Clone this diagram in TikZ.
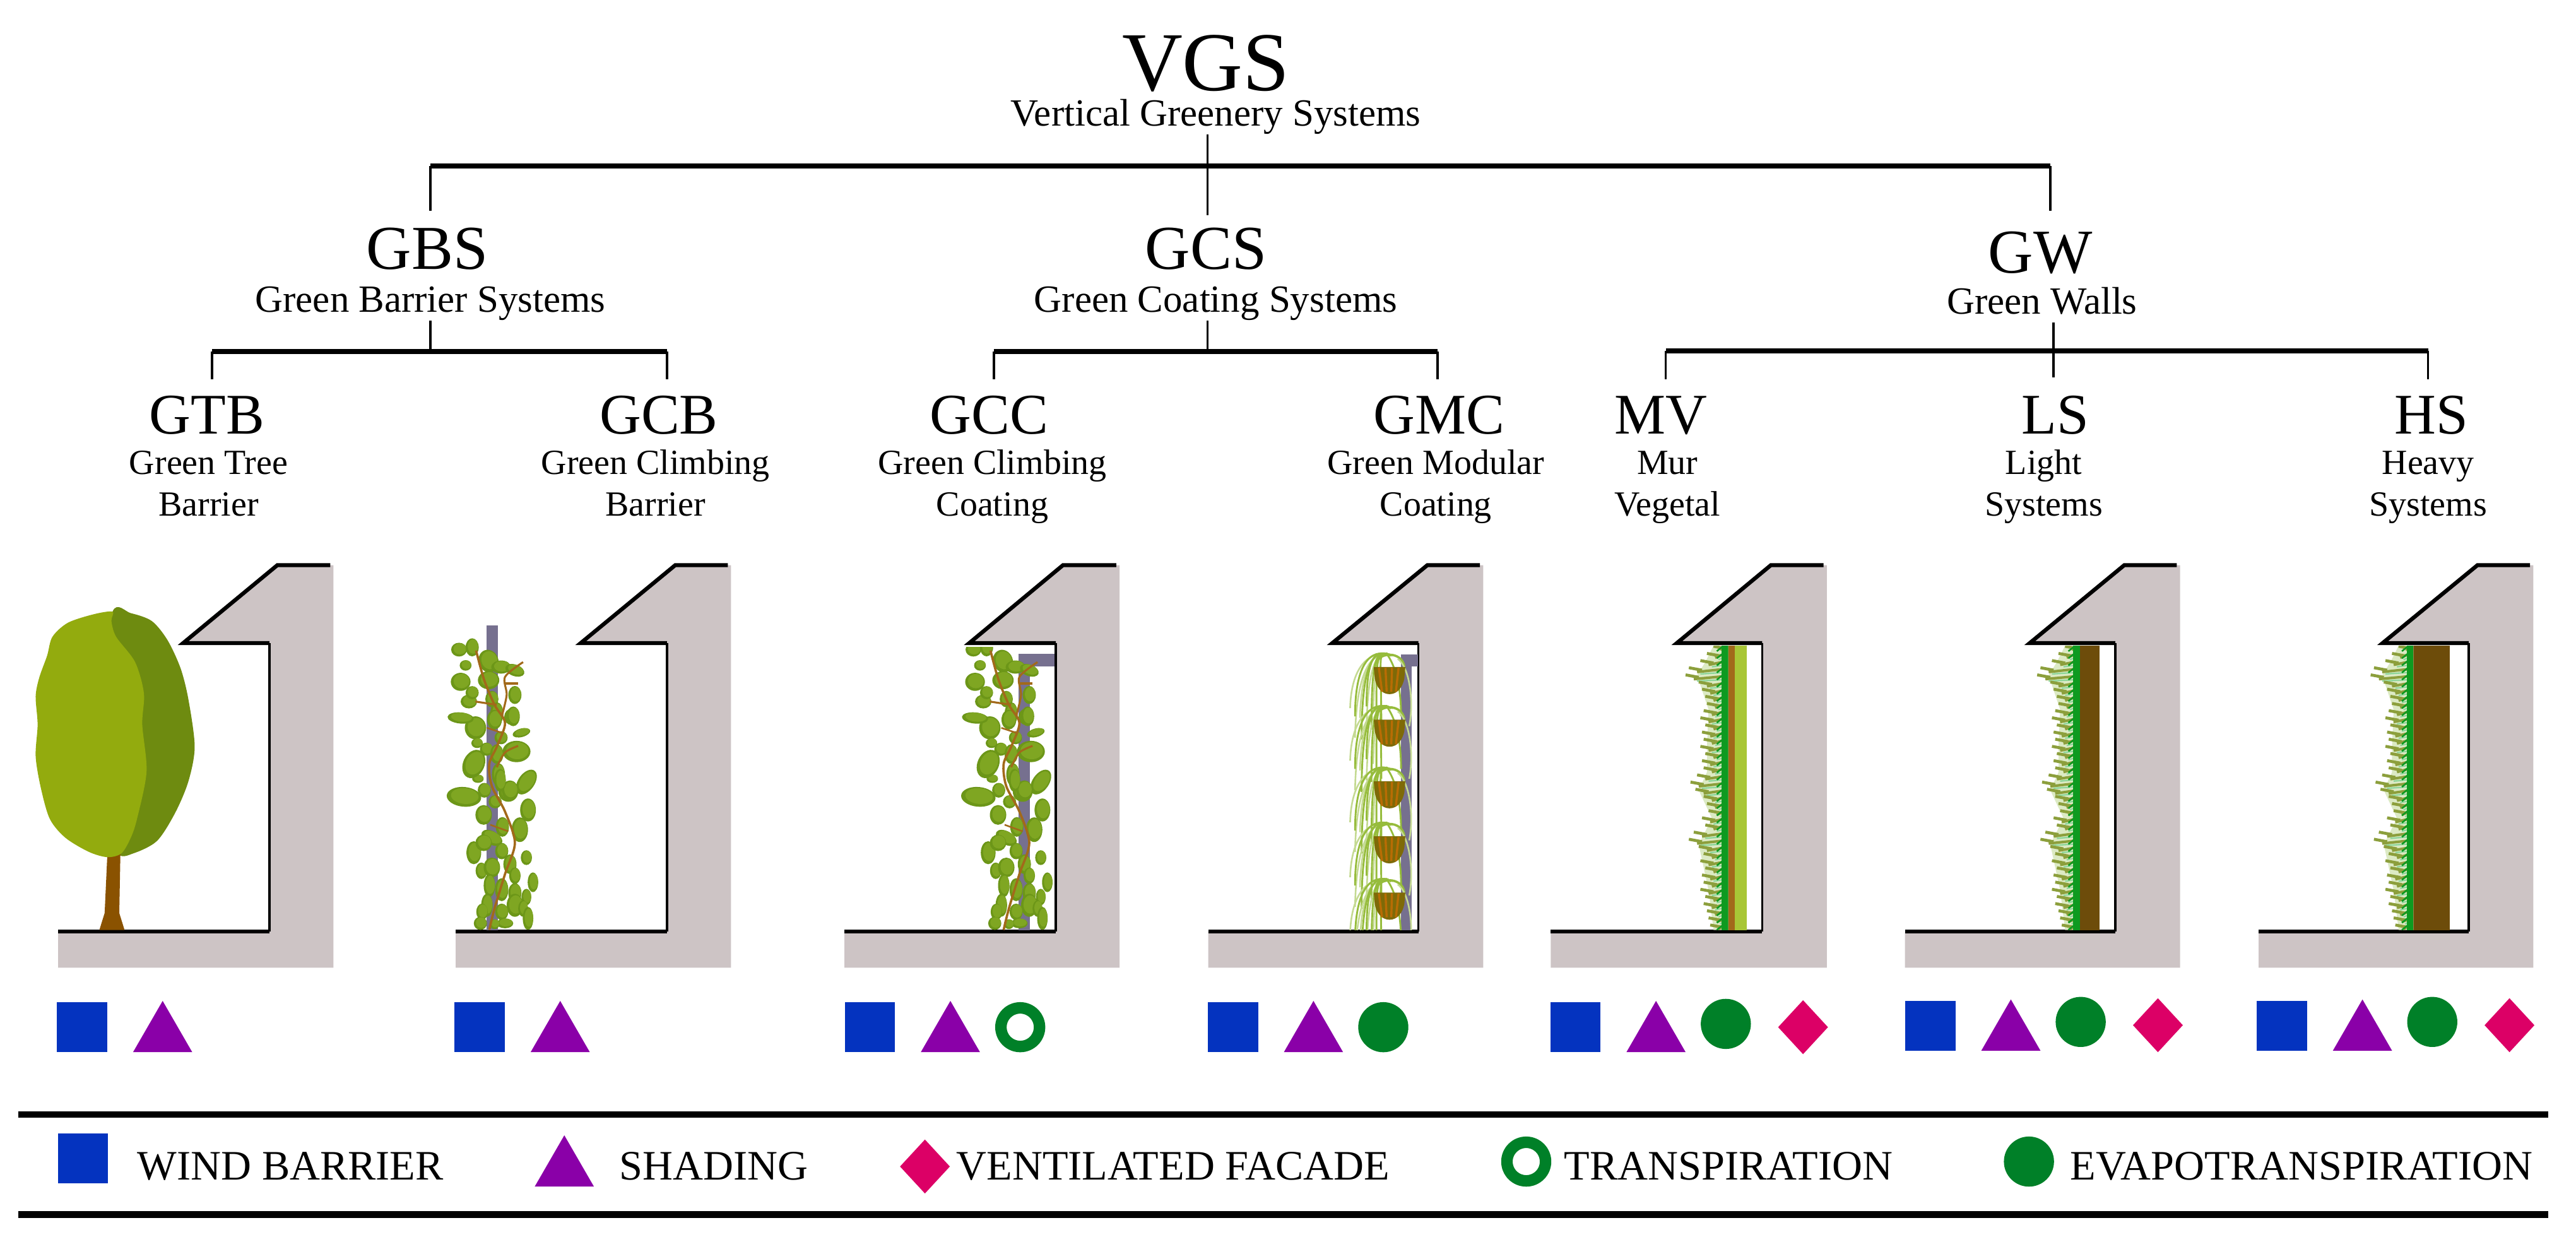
\documentclass[tikz,border=0pt]{standalone}
\usepackage{fontspec}
\setmainfont{Liberation Serif}
\usetikzlibrary{positioning}
\usetikzlibrary{shapes.geometric}

\definecolor{wallgrey}{HTML}{CDC4C5}
\definecolor{postgrey}{HTML}{76708F}
\definecolor{windblue}{HTML}{0433BF}
\definecolor{shadepurple}{HTML}{8A00A8}
\definecolor{evapgreen}{HTML}{008028}
\definecolor{ventpink}{HTML}{DC0066}
\definecolor{treelight}{HTML}{93AB0E}
\definecolor{treedark}{HTML}{6E8B10}
\definecolor{trunkbrown}{HTML}{8A5200}
\definecolor{leaflight}{HTML}{7FA622}
\definecolor{leafdark}{HTML}{6C9618}
\definecolor{stembrown}{HTML}{A2691A}
\definecolor{soilbrown}{HTML}{6D4C0A}
\definecolor{mosslime}{HTML}{A8C636}
\definecolor{grassgreen}{HTML}{0E9A20}
\definecolor{grassolive}{HTML}{8C9F3C}
\definecolor{grasspale}{HTML}{DCEAC4}
\definecolor{grassmint}{HTML}{8ED69A}
\definecolor{strandgreen}{HTML}{96BC3C}
\definecolor{strandpale}{HTML}{C4DA92}
\definecolor{potbrown}{HTML}{7E6A08}
\definecolor{potorange}{HTML}{B86C04}

\tikzstyle{vgstext} = [font=\fontsize{51}{60}\selectfont, text height=35pt, text depth=0pt, inner sep=0pt]
\tikzstyle{headtext} = [font=\fontsize{38}{44}\selectfont, text height=26pt, text depth=0pt, inner sep=0pt]
\tikzstyle{nametext} = [font=\fontsize{23.4}{28}\selectfont, text height=16pt, text depth=5pt, inner sep=0pt]
\tikzstyle{abbrtext} = [font=\fontsize{35}{40}\selectfont, text height=23pt, text depth=0pt, inner sep=0pt]
\tikzstyle{desctext} = [font=\fontsize{21.5}{25.6}\selectfont, align=center, inner sep=0pt, yshift=-10.2pt]
\tikzstyle{legendtext} = [font=\fontsize{25.5}{30}\selectfont, text height=17pt, text depth=0pt, inner sep=0pt]
\tikzstyle{stem} = [line width=1.3pt, black]
\tikzstyle{bar} = [line width=3pt, black]
\tikzstyle{rule} = [line width=4pt, black]
\tikzstyle{wallline} = [line width=2.4pt, black]
\tikzstyle{windbox} = [rectangle, fill=windblue, minimum size=30.5pt, inner sep=0pt]
\tikzstyle{shadetri} = [regular polygon, regular polygon sides=3, fill=shadepurple, minimum size=41.6pt, inner sep=0pt]
\tikzstyle{evapdisc} = [circle, fill=evapgreen, minimum size=30.5pt, inner sep=0pt]
\tikzstyle{transring} = [circle, draw=evapgreen, line width=7pt, fill=white, minimum size=23.5pt, inner sep=0pt]
\tikzstyle{ventdiamond} = [diamond, fill=ventpink, minimum width=30.5pt, minimum height=33pt, inner sep=0pt]
\tikzstyle{tri_row} = [shadetri, xshift=15.5pt, yshift=-4.8pt]
\tikzstyle{disc_row} = [xshift=9pt, yshift=4.8pt]
\tikzstyle{vent_row} = [ventdiamond, xshift=13.5pt]

\newcommand{\twolines}[2]{\strut #1\\\strut #2}

% wall section: slab left, slab right, top corner, overhang tip, inner corner
\newcommand{\wallblock}[5]{
  \fill[wallgrey] (#1,567) -- (#5,567) -- (#5,391.4) -- (#4,391.4) -- (#3,344) -- (#2,344) -- (#2,589) -- (#1,589) -- cycle;
  \draw[wallline] (#2-2,344) -- (#3,344) -- (#4,391.4) -- (#5,391.4);
  \draw[stem] (#5,391.4) -- (#5,567);
  \draw[wallline] (#5,567) -- (#1,567);
}

\tikzset{vineplant/.pic={
  \foreach \lx/\ly/\la/\lb/\lr in {-20/-170.6/4.8/4.2/0,-12/-172/4/5.5/0,-16/-161/3.6/3.2/0,-19/-151/6/5.5/0,-14/-139/5/4.2/0,
    -2/-163.6/6/7/20,5.6/-160/6/4/0,-2/-152/6.5/5.5/0,-12/-144.4/4/4/0,0/-140.5/4/5/0,3/-131.6/4/7/0,12/-129.7/4.5/5/0,
    -10/-123/6.5/7/0,5.6/-117/4/4/0,-9/-113.7/3.5/3/0,-3.3/-110/4/4/0,3/-107/4/6/0,15/-108.6/8.5/6.5/0,4/-94.5/4/7/0,
    -8.5/-92/3.5/2.5/0,-4.6/-85/4/4.5/0,10/-84/6/6/0,2/-78/4/4/0,
    14/-158/6/3.5/-20,14/-143/4/5.5/0,-19/-129/8/3.4/-5,13/-130/4/6/0,18/-120/5.5/2.6/15,-11/-101/6.5/9/-25,21/-90/5/8.5/-35,
    -17/-81/10.5/6/-5,11/-85/5/6/0,22/-73/4.8/7/0,-5/-70/5/6/0,17/-61/5/7.5/0,6.4/-62.7/4/6/0,0/-56/7/4/-30,-11/-47/4.5/7/0,
    -5/-53/5/5/0,6/-48/4/5/0,11/-40/4/6/0,-6.4/-36/3.5/5/0,0/-38/5/6/0,21/-44/3.4/4.5/0,25/-29/3.2/6/0,14/-33/3.5/5/0,
    -1.5/-27/3.5/7/0,6/-24.5/4/7/0,14/-22.5/4/6/0,21/-20/3/5/0,14/-15/5/7/0,-3/-15/3.5/7/0,19/-13/3/5/0,22/-7/3.2/7/0,
    -6/-11/3.5/5/0,6/-11/4/5/0,-7/-4/4/4/0,8/-4/5/3/0,1.6/-3.5/3/3/0,5/-91/3.5/7/0,1.6/-128/4.5/6/0} {
    \fill[leafdark] (\lx,\ly) ellipse [x radius=\la, y radius=\lb, rotate=\lr];
    \fill[leaflight] (\lx+.5,\ly-.5) ellipse [x radius=\la*.8, y radius=\lb*.8, rotate=\lr];
  }
  \draw[stembrown, line width=1.4pt] plot[smooth] coordinates {(-9.6,-170) (-4.8,-152.5) (1.6,-137) (8,-126) (3.2,-112) (-1.6,-101) (0,-87.5) (8,-72) (14,-53) (8,-34) (1.6,-13) (-1.6,0)};
  \draw[stembrown, line width=1.2pt] plot[smooth] coordinates {(19,-163) (8,-154) (9,-143) (6,-130)};
  \draw[stembrown, line width=1.2pt] (-10,-139) -- (3,-137);
  \draw[stembrown, line width=1.2pt] (8,-150) -- (16,-150);
  \draw[stembrown, line width=1pt] (-3,-123) -- (6,-120);
  \draw[stembrown, line width=1.2pt] plot[smooth] coordinates {(16,-112) (8,-108) (3,-99)};
  \draw[stembrown, line width=1pt] (-1,-64) -- (10,-60);
}}

\tikzset{hangpot/.pic={
  \foreach \ex/\ey in {-23/22,-20/40,-17/28,-13/34,-9/24} {
    \draw[strandpale, line width=1pt] (2,-7) .. controls (-6,-10) and (\ex,-8) .. (\ex-1,\ey+3);
  }
  \foreach \ex/\ey in {-21/30,-17/44,-14/24,-11/38,-8/30,-5/36,7/30} {
    \draw[strandgreen, line width=1.1pt] (1,-7) .. controls (-8,-11) and (\ex,-8) .. (\ex,\ey);
  }
  \draw[strandgreen, line width=1.4pt] (-9,0) .. controls (-8,-10) and (8,-10) .. (9,0);
  \draw[strandpale, line width=1pt] (5,-5) .. controls (12,0) and (15,20) .. (12,36);
  \fill[potbrown] (-9.6,0) -- (9.6,0) -- (9,7) .. controls (8,12) and (5,16.5) .. (0,16.5) .. controls (-5,16.5) and (-8,12) .. (-9,7) -- cycle;
  \foreach \sx in {-6.5,-2.5,1.5,5.5} {
    \draw[potorange, line width=1.3pt] (\sx,.5) -- (\sx*.7,15);
  }
}}

\tikzset{grasswall/.pic={
  \begin{scope}
    \clip (-40,393) rectangle (0,566);
    \fill[grasspale] (-9,393) -- (-14,403) -- (-19,411) -- (-12,432) -- (-13,454) -- (-13,470) -- (-18,481) -- (-10,498) -- (-18,514) -- (-12,542) -- (-9,566) -- (0,566) -- (0,393) -- cycle;
    \foreach \gx [count=\k] in {-9,-13,-17,-24,-26,-18,-16,-14,-13,-15,-17,-14,-16,-15,-17,-14,-16,-15,-19,-23,
      -20,-15,-13,-12,-16,-14,-21,-24,-18,-15,-17,-14,-16,-15,-17,-14,-15,-13,-12,-11} {
      \pgfmathsetmacro{\gy}{389+4.35*\k}
      \draw[grassolive, line width=1.8pt] (\gx,\gy) -- (\gx+8,\gy+1.5);
      \draw[grassolive, line width=1.6pt] (\gx+5,\gy+2.6) -- (-4,\gy+1);
      \draw[grassmint, line width=.9pt] (\gx+7,\gy+3.8) -- (-4,\gy+3);
      \draw[grassgreen, line width=1pt] (-7,\gy+3) -- (-2,\gy-1);
    }
    \fill[grassgreen] (-4,393) rectangle (0,566);
  \end{scope}
}}

\begin{document}
\begin{tikzpicture}[x=1pt, y=-1pt, node distance=33.5pt]
  \useasboundingbox (0,0) rectangle (1568,755.6);

  % We start by placing the titles
  \node (vgs) [vgstext] at (734,37.5) {VGS};
  \node (vgs_name) [nametext, below of=vgs, xshift=6pt] {Vertical Greenery Systems};

  \node (gcs) [headtext, below of=vgs, yshift=-80pt] {GCS};
  \node (gbs) [headtext, left of=gcs, xshift=-440.5pt] {GBS};
  \node (gw) [headtext, right of=gcs, xshift=474.5pt, yshift=-2pt] {GW};
  \node (gbs_name) [nametext, below of=gbs, xshift=2pt] {Green Barrier Systems};
  \node (gcs_name) [nametext, below of=gcs, xshift=6pt] {Green Coating Systems};
  \node (gw_name) [nametext, below of=gw, xshift=1pt, yshift=1pt] {Green Walls};

  \node (gtb) [abbrtext, below of=gbs, xshift=-134pt, yshift=-68pt] {GTB};
  \node (gcb) [abbrtext, right of=gtb, xshift=241.5pt] {GCB};
  \node (gcc) [abbrtext, below of=gcs, xshift=-132pt, yshift=-68pt] {GCC};
  \node (gmc) [abbrtext, right of=gcc, xshift=240.5pt] {GMC};
  \node (ls) [abbrtext, below of=gw, xshift=9pt, yshift=-66pt] {LS};
  \node (mv) [abbrtext, left of=ls, xshift=-206.5pt] {MV};
  \node (hs) [abbrtext, right of=ls, xshift=195.5pt] {HS};

  \node (gtb_text) [desctext, below of=gtb, xshift=1pt] {\twolines{Green Tree}{Barrier}};
  \node (gcb_text) [desctext, below of=gcb, xshift=-2pt] {\twolines{Green Climbing}{Barrier}};
  \node (gcc_text) [desctext, below of=gcc, xshift=2pt] {\twolines{Green Climbing}{Coating}};
  \node (gmc_text) [desctext, below of=gmc, xshift=-2pt] {\twolines{Green Modular}{Coating}};
  \node (mv_text) [desctext, below of=mv, xshift=4pt] {\twolines{Mur}{Vegetal}};
  \node (ls_text) [desctext, below of=ls, xshift=-7pt] {\twolines{Light}{Systems}};
  \node (hs_text) [desctext, below of=hs, xshift=-2pt] {\twolines{Heavy}{Systems}};

  % Bar ends of the tree
  \coordinate (bar_vgs_l) at (262,101);
  \coordinate (bar_vgs_c) at (735,101);
  \coordinate (bar_vgs_r) at (1248,101);
  \coordinate (bar_gbs_l) at (129,214);
  \coordinate (bar_gbs_r) at (406,214);
  \coordinate (bar_gcs_l) at (605,214);
  \coordinate (bar_gcs_c) at (735,214);
  \coordinate (bar_gcs_r) at (875,214);
  \coordinate (bar_gw_l) at (1014,213.5);
  \coordinate (bar_gw_c) at (1250,213.5);
  \coordinate (bar_gw_r) at (1478,213.5);

  % Draw the connections
  \draw [bar] (bar_vgs_l) -- (bar_vgs_r);
  \draw [stem, shorten >=7pt] (bar_vgs_c |- vgs_name.south) -- (bar_vgs_c |- gcs.north);
  \draw [stem, shorten >=9.4pt] (bar_vgs_l) -- (bar_vgs_l |- gbs.north);
  \draw [stem, shorten >=11.4pt] (bar_vgs_r) -- (bar_vgs_r |- gw.north);

  \draw [bar] (bar_gbs_l) -- (bar_gbs_r);
  \draw [stem] (gbs_name.south) -- (gbs_name.south |- bar_gbs_l);
  \draw [stem, shorten >=10pt] (bar_gbs_l) -- (bar_gbs_l |- gtb.north);
  \draw [stem, shorten >=10pt] (bar_gbs_r) -- (bar_gbs_r |- gcb.north);

  \draw [bar] (bar_gcs_l) -- (bar_gcs_r);
  \draw [stem] (bar_gcs_c |- gcs_name.south) -- (bar_gcs_c);
  \draw [stem, shorten >=10pt] (bar_gcs_l) -- (bar_gcs_l |- gcc.north);
  \draw [stem, shorten >=10pt] (bar_gcs_r) -- (bar_gcs_r |- gmc.north);

  \draw [bar] (bar_gw_l) -- (bar_gw_r);
  \draw [stem, shorten >=11pt] (bar_gw_c |- gw_name.south) -- (bar_gw_c |- ls.north);
  \draw [stem, shorten >=10pt] (bar_gw_l) -- (bar_gw_l |- mv.north);
  \draw [stem, shorten >=10pt] (bar_gw_r) -- (bar_gw_r |- hs.north);

  % Wall sections
  \wallblock{35.4}{203}{168.8}{111.5}{164}
  \wallblock{277.4}{445}{411}{353.5}{406}
  \wallblock{514}{681.5}{647}{590}{642.7}
  \wallblock{735.4}{902.8}{868.8}{811}{863.4}
  \wallblock{943.9}{1112}{1077.9}{1020.7}{1072.6}
  \wallblock{1159.5}{1327}{1293}{1235.5}{1287.5}
  \wallblock{1374.8}{1542}{1508}{1450.3}{1502.7}

  % Tree
  \fill[treedark] plot[smooth cycle] coordinates {(68.5,372.3) (79.6,373.2) (92.4,378) (101.9,389.5) (109.9,406.7) (114.7,425.8) (118.5,454.4) (114.7,475.5) (106.7,494.6) (95.6,511.8) (81.2,519.4) (71.7,519.8) (60,500) (60,420)};
  \fill[trunkbrown] (65.3,521) -- (63.7,555.7) -- (60.5,566) -- (75.8,566) -- (72.6,555.7) -- (73.3,519) -- cycle;
  \fill[treelight] plot[smooth cycle] coordinates {(68.5,372.3) (57.3,373.8) (41.4,379) (31.9,387.6) (28.7,399) (23.9,412.4) (21.7,423.9) (22.9,441) (21.7,460.2) (24.8,479.3) (30.3,498.4) (39.8,509.9) (54.1,518.5) (65.3,521.7) (73.9,519.4) (79.6,509.9) (83.4,498.4) (89.2,469.7) (86.6,441) (87.6,422) (82.2,402.9) (70.7,387.6) (67.8,378)};

  % Climbing plants
  \fill[postgrey] (296.2,380.5) rectangle (303.2,566);
  \pic at (299.4,566) {vineplant};
  \fill[postgrey] (620,398) rectangle (642,405.7);
  \fill[postgrey] (620,398) rectangle (627,566);
  \begin{scope}
    \clip (570,394) rectangle (642,566);
    \pic at (612.5,566) {vineplant};
  \end{scope}

  % Modular pots
  \fill[postgrey] (852.8,398.3) rectangle (863,405.7);
  \fill[postgrey] (852.8,398.3) rectangle (859.4,566);
  \begin{scope}
    \clip (800,393) rectangle (862,566);
    \pic at (845.8,406) {hangpot};
    \pic at (845.8,438) {hangpot};
    \pic at (845.8,475.5) {hangpot};
    \pic at (845.8,509) {hangpot};
    \pic at (845.8,543.3) {hangpot};
  \end{scope}

  % Living walls
  \fill[mosslime] (1056,393) rectangle (1063.3,566);
  \fill[stembrown] (1051.6,393) rectangle (1056,566);
  \pic at (1052,0) {grasswall};
  \fill[soilbrown] (1266,393) rectangle (1278,566);
  \pic at (1266,0) {grasswall};
  \fill[soilbrown] (1469,393) rectangle (1491,566);
  \pic at (1469,0) {grasswall};

  % Benefits of each system
  \node (wind_gtb) [windbox] at (50,625.2) {};
  \node (shade_gtb) [tri_row, right of=wind_gtb] {};
  \node (wind_gcb) [windbox] at (292,625.2) {};
  \node (shade_gcb) [tri_row, right of=wind_gcb] {};
  \node (wind_gcc) [windbox] at (529.5,625.2) {};
  \node (shade_gcc) [tri_row, right of=wind_gcc] {};
  \node (ring_gcc) [transring, disc_row, right of=shade_gcc] {};
  \node (wind_gmc) [windbox] at (750.5,625.2) {};
  \node (shade_gmc) [tri_row, right of=wind_gmc] {};
  \node (disc_gmc) [evapdisc, disc_row, right of=shade_gmc] {};
  \node (wind_mv) [windbox] at (959,625.2) {};
  \node (shade_mv) [tri_row, right of=wind_mv] {};
  \node (disc_mv) [evapdisc, disc_row, right of=shade_mv, yshift=2pt] {};
  \node (vent_mv) [vent_row, right of=disc_mv, yshift=-2pt] {};
  \node (wind_ls) [windbox] at (1175,624.3) {};
  \node (shade_ls) [tri_row, right of=wind_ls] {};
  \node (disc_ls) [evapdisc, disc_row, right of=shade_ls, yshift=2.3pt] {};
  \node (vent_ls) [vent_row, right of=disc_ls, yshift=-2pt] {};
  \node (wind_hs) [windbox] at (1389,624.3) {};
  \node (shade_hs) [tri_row, right of=wind_hs] {};
  \node (disc_hs) [evapdisc, disc_row, right of=shade_hs, yshift=2.3pt] {};
  \node (vent_hs) [vent_row, right of=disc_hs, yshift=-2pt] {};

  % Legend
  \coordinate (rule_top_l) at (11,678.3);
  \coordinate (rule_top_r) at (1551,678.3);
  \coordinate (rule_low_l) at (11,739.3);
  \coordinate (rule_low_r) at (1551,739.3);
  \draw [rule] (rule_top_l) -- (rule_top_r);
  \draw [rule] (rule_low_l) -- (rule_low_r);

  \node (legend_wind) [windbox] at (50.5,705) {};
  \node (legend_wind_text) [legendtext, right=33pt of legend_wind.center, anchor=west, yshift=-4.5pt] {WIND BARRIER};
  \node (legend_shade) [shadetri] at (343.5,711.8) {};
  \node (legend_shade_text) [legendtext, right=33.5pt of legend_shade.center, anchor=west, yshift=2.3pt] {SHADING};
  \node (legend_vent) [ventdiamond] at (563,710) {};
  \node (legend_vent_text) [legendtext, right=19pt of legend_vent.center, anchor=west, yshift=.5pt] {VENTILATED FACADE};
  \node (legend_trans) [transring] at (929,707) {};
  \node (legend_trans_text) [legendtext, right=23pt of legend_trans.center, anchor=west, yshift=-2.5pt] {TRANSPIRATION};
  \node (legend_evap) [evapdisc] at (1235,707) {};
  \node (legend_evap_text) [legendtext, right=25pt of legend_evap.center, anchor=west, yshift=-2.5pt] {EVAPOTRANSPIRATION};
\end{tikzpicture}
\end{document}
